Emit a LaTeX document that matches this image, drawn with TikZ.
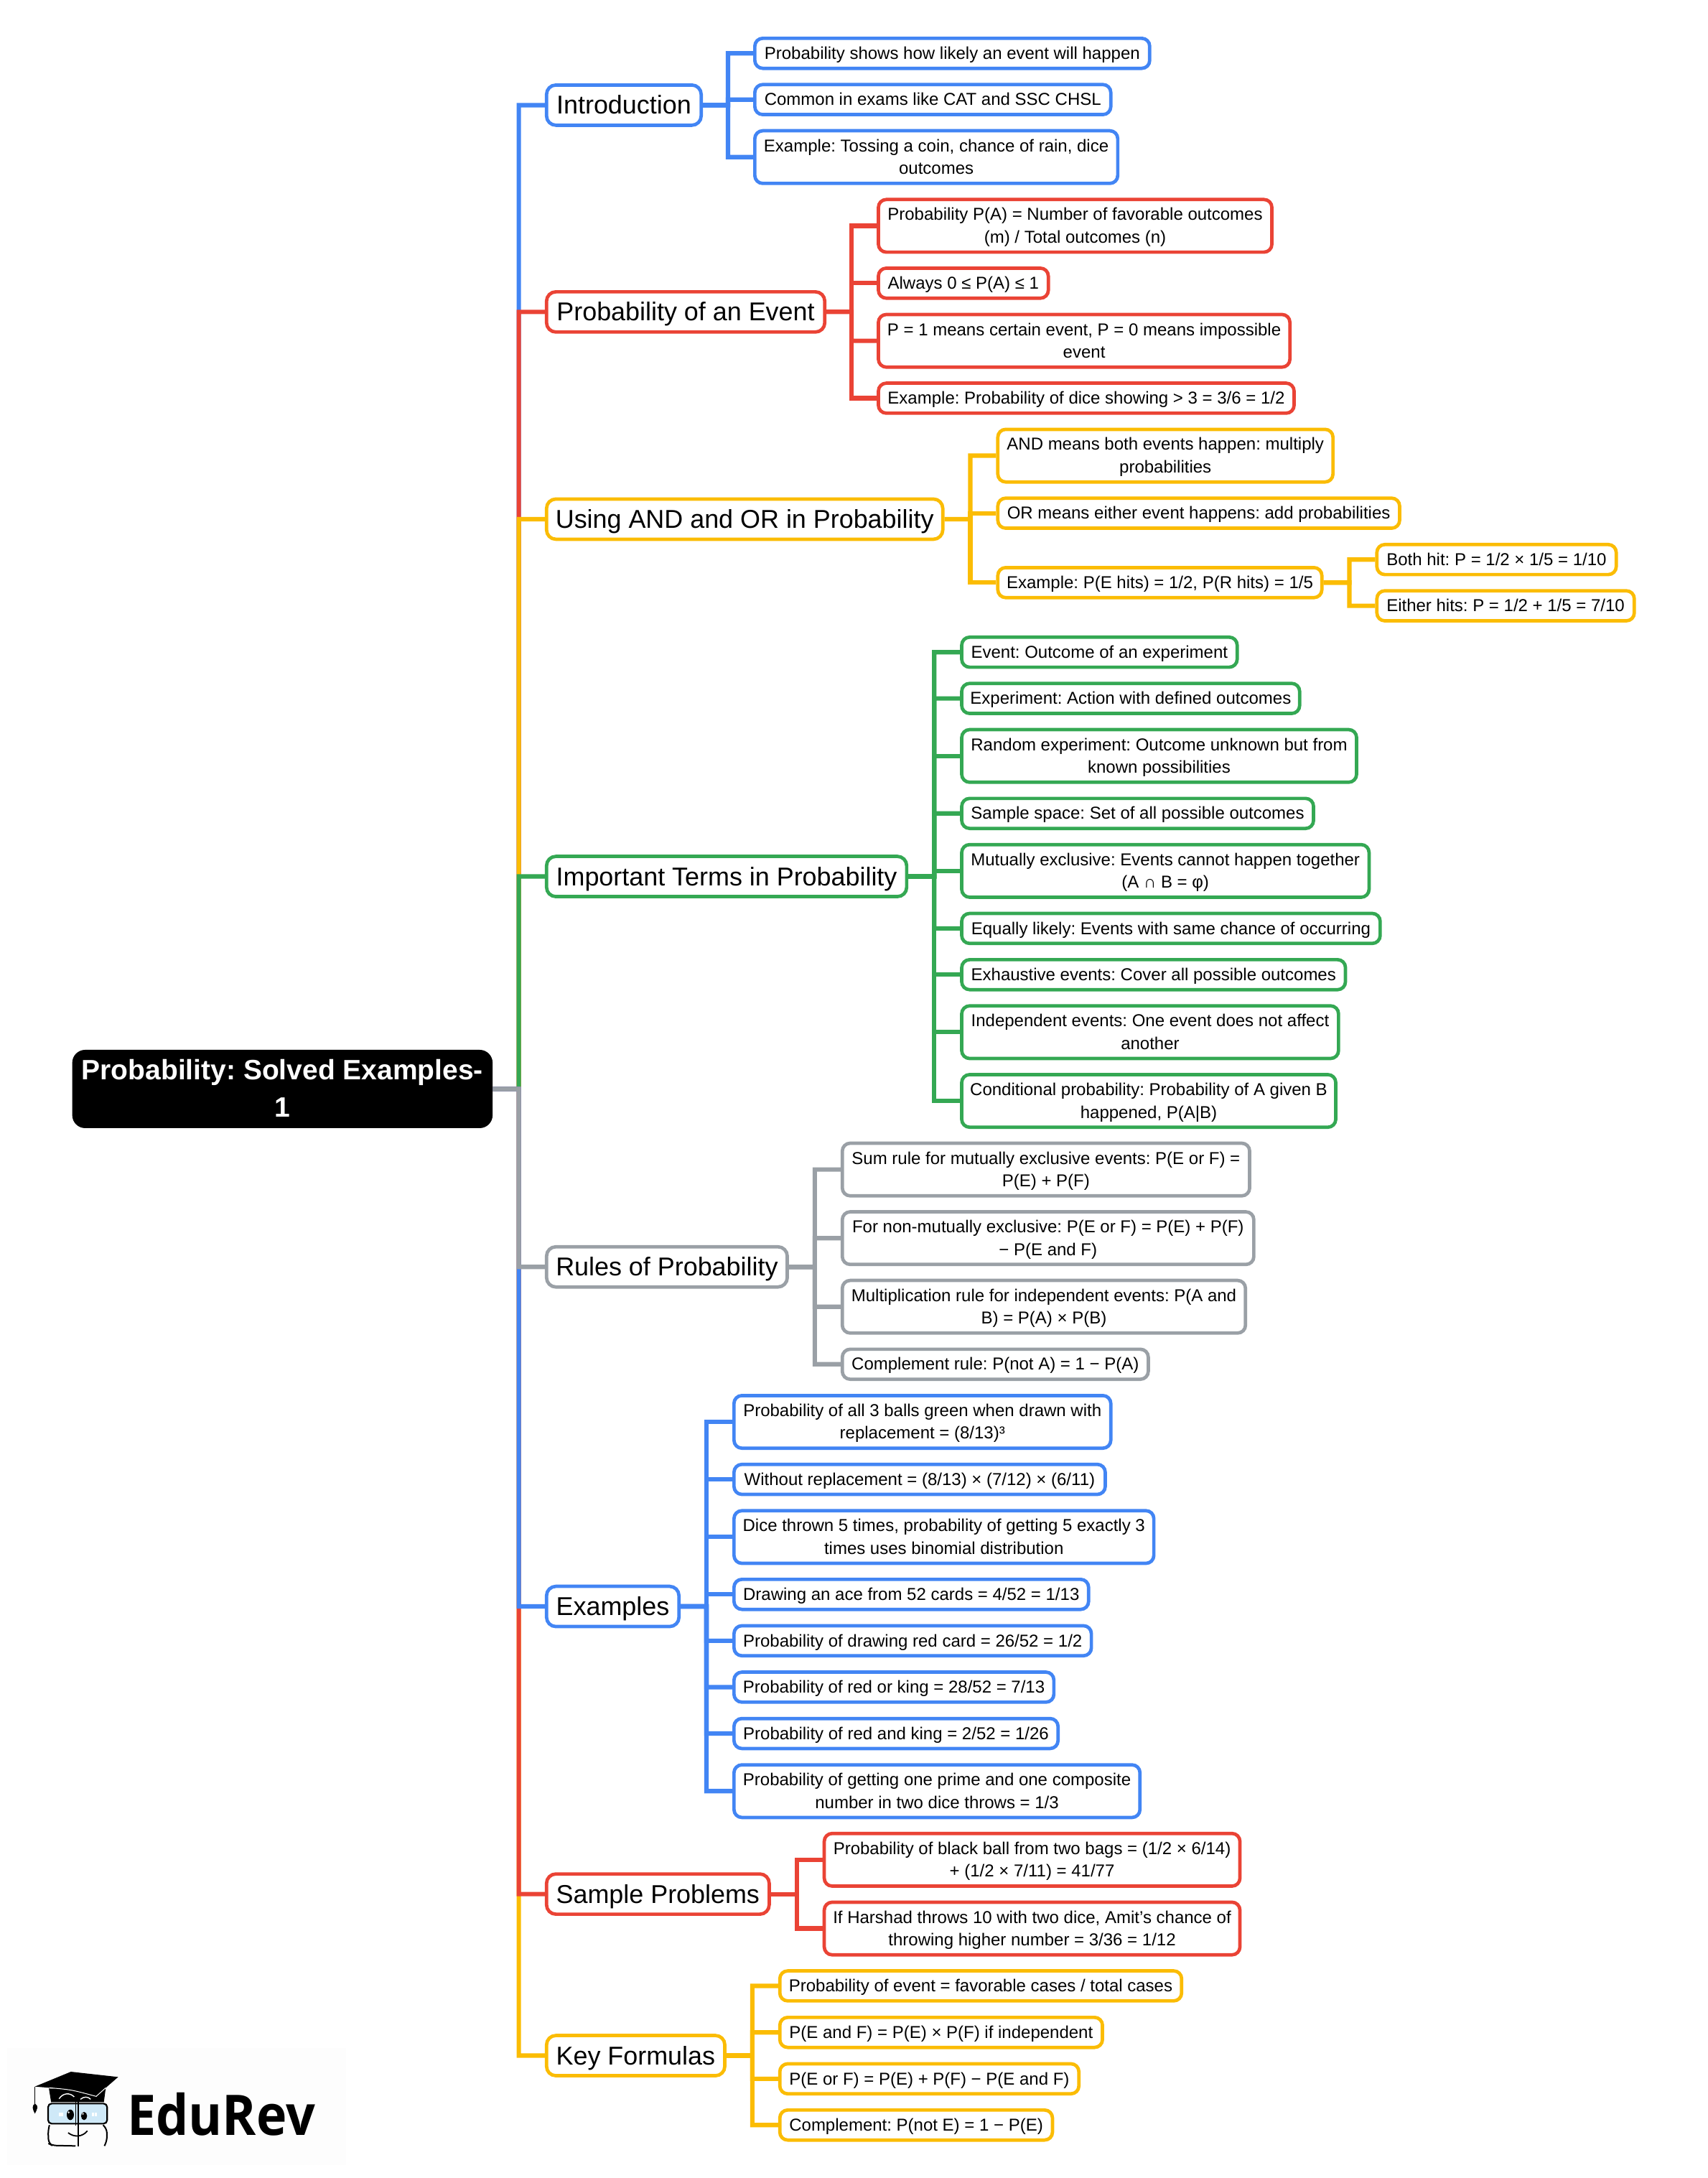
\documentclass[tikz,border=0pt]{standalone}
\usepackage{fontspec}
\setmainfont{Liberation Sans}[Ligatures=ResetAll]
\newfontfamily\logofont{Open Sans}[FakeStretch=0.92]
\usetikzlibrary{calc}
\definecolor{gblue}{HTML}{4285F4}
\definecolor{gred}{HTML}{EA4335}
\definecolor{gyellow}{HTML}{FBBC04}
\definecolor{ggreen}{HTML}{34A853}
\definecolor{ggrey}{HTML}{9AA0A6}
\definecolor{logobg}{HTML}{FDFDFD}
\definecolor{lens}{HTML}{CFE9F8}
\newcommand\ls{\rule[-0.24\baselineskip]{0pt}{\baselineskip}}
\tikzset{
  anybox/.style={draw=#1,fill=white,line width=4.7pt,rounded corners=11pt,align=center,inner xsep=0pt,text=black},
  leafbox/.style={anybox=#1,font=\frenchspacing\fontsize{24}{31.5}\selectfont,inner ysep=5.15pt},
  branchbox/.style={anybox=#1,font=\frenchspacing\fontsize{35.9}{48}\selectfont,inner ysep=4pt,rounded corners=13pt},
  rootbox/.style={fill=black,text=white,rounded corners=18pt,align=center,inner xsep=0pt,inner ysep=2.5pt,font=\frenchspacing\fontsize{39}{52}\selectfont\bfseries},
  linkline/.style={draw=#1,line width=6.2pt}
}
% name, colour, left, right, centre y, text
\newcommand\leafn[6]{\node[leafbox=#2,minimum width={(#4-#3+0.8)*1.934pt-4.7pt}] (#1) at ({(#3+#4)/2-0.2},#5) {\ls #6\ls};}
\newcommand\branchn[6]{\node[branchbox=#2,minimum width={(#4-#3+0.8)*1.934pt-4.7pt}] (#1) at ({(#3+#4)/2-0.2},#5) {\ls #6\ls};}
% colour, parent, child
\newcommand\link[3]{\draw[linkline=#1] (#2.east) -- ($(#2.east)!.5!(#2.east -| #3.west)$) -- ($(#3.west)!.5!(#3.west -| #2.east)$) -- (#3.west);}
\begin{document}
\begin{tikzpicture}[x=1.934pt,y=-1.934pt]
\useasboundingbox (0,0) rectangle (1230.09,1568.25);
\fill[white] (0,0) rectangle (1230.09,1568.25);

\node[rootbox,minimum width=585.5pt] (root) at (203.4,784.1) {\ls Probability: Solved Examples-\\\ls 1};

\branchn{b1}{gblue}{393}{506}{75.7}{Introduction}
\branchn{b2}{gred}{393}{595}{224.6}{Probability of an Event}
\branchn{b3}{gyellow}{393}{680}{373.8}{Using AND and OR in Probability}
\branchn{b4}{ggreen}{393}{654}{631.1}{Important Terms in Probability}
\branchn{b5}{ggrey}{393}{568}{912.2}{Rules of Probability}
\branchn{b6}{gblue}{393}{490}{1156.7}{Examples}
\branchn{b7}{gred}{393}{555}{1363.8}{Sample Problems}
\branchn{b8}{gyellow}{393}{523}{1480.1}{Key Formulas}

\leafn{a1}{gblue}{543}{829}{38.4}{Probability shows how likely an event will happen}
\leafn{a2}{gblue}{543}{801}{71.7}{Common in exams like CAT and SSC CHSL}
\leafn{a3}{gblue}{543}{806}{113.1}{Example: Tossing a coin, chance of rain, dice\\outcomes}

\leafn{e1}{gred}{632}{917}{162.6}{Probability P(A) = Number of favorable outcomes\\(m) / Total outcomes (n)}
\leafn{e2}{gred}{632}{756}{203.9}{Always 0 ≤ P(A) ≤ 1}
\leafn{e3}{gred}{632}{930}{245.4}{P = 1 means certain event, P = 0 means impossible\\event}
\leafn{e4}{gred}{632}{933}{286.7}{Example: Probability of dice showing > 3 = 3/6 = 1/2}

\leafn{u1}{gyellow}{718}{961}{328.1}{AND means both events happen: multiply\\probabilities}
\leafn{u2}{gyellow}{718}{1009}{369.5}{OR means either event happens: add probabilities}
\leafn{u3}{gyellow}{718}{953}{419.5}{Example: P(E hits) = 1/2, P(R hits) = 1/5}
\leafn{u4}{gyellow}{991}{1165}{402.9}{Both hit: P = 1/2 × 1/5 = 1/10}
\leafn{u5}{gyellow}{991}{1178}{436.2}{Either hits: P = 1/2 + 1/5 = 7/10}

\leafn{t1}{ggreen}{692}{892}{469.6}{Event: Outcome of an experiment}
\leafn{t2}{ggreen}{692}{937}{502.9}{Experiment: Action with defined outcomes}
\leafn{t3}{ggreen}{692}{978}{544.3}{Random experiment: Outcome unknown but from\\known possibilities}
\leafn{t4}{ggreen}{692}{947}{585.7}{Sample space: Set of all possible outcomes}
\leafn{t5}{ggreen}{692}{987}{627.1}{Mutually exclusive: Events cannot happen together\\(A ∩ B = φ)}
\leafn{t6}{ggreen}{692}{995}{668.5}{Equally likely: Events with same chance of occurring}
\leafn{t7}{ggreen}{692}{970}{701.8}{Exhaustive events: Cover all possible outcomes}
\leafn{t8}{ggreen}{692}{965}{743.2}{Independent events: One event does not affect\\another}
\leafn{t9}{ggreen}{692}{963}{792.7}{Conditional probability: Probability of A given B\\happened, P(A|B)}

\leafn{r1}{ggrey}{606}{901}{842.1}{Sum rule for mutually exclusive events: P(E or F) =\\P(E) + P(F)}
\leafn{r2}{ggrey}{606}{904}{891.5}{For non-mutually exclusive: P(E or F) = P(E) + P(F)\\− P(E and F)}
\leafn{r3}{ggrey}{606}{898}{940.9}{Multiplication rule for independent events: P(A and\\B) = P(A) × P(B)}
\leafn{r4}{ggrey}{606}{828}{982.3}{Complement rule: P(not A) = 1 − P(A)}

\leafn{x1}{gblue}{528}{801}{1023.8}{Probability of all 3 balls green when drawn with\\replacement = (8/13)³}
\leafn{x2}{gblue}{528}{797}{1065.2}{Without replacement = (8/13) × (7/12) × (6/11)}
\leafn{x3}{gblue}{528}{832}{1106.7}{Dice thrown 5 times, probability of getting 5 exactly 3\\times uses binomial distribution}
\leafn{x4}{gblue}{528}{785}{1148}{Drawing an ace from 52 cards = 4/52 = 1/13}
\leafn{x5}{gblue}{528}{787}{1181.4}{Probability of drawing red card = 26/52 = 1/2}
\leafn{x6}{gblue}{528}{760}{1214.8}{Probability of red or king = 28/52 = 7/13}
\leafn{x7}{gblue}{528}{763}{1248.2}{Probability of red and king = 2/52 = 1/26}
\leafn{x8}{gblue}{528}{822}{1289.7}{Probability of getting one prime and one composite\\number in two dice throws = 1/3}

\leafn{s1}{gred}{593}{894}{1339.1}{Probability of black ball from two bags = (1/2 × 6/14)\\+ (1/2 × 7/11) = 41/77}
\leafn{s2}{gred}{593}{894}{1388.6}{If Harshad throws 10 with two dice, Amit's chance of\\throwing higher number = 3/36 = 1/12}

\leafn{k1}{gyellow}{561}{852}{1429.9}{Probability of event = favorable cases / total cases}
\leafn{k2}{gyellow}{561}{795}{1463.4}{P(E and F) = P(E) × P(F) if independent}
\leafn{k3}{gyellow}{561}{778}{1496.8}{P(E or F) = P(E) + P(F) − P(E and F)}
\leafn{k4}{gyellow}{561}{759}{1530.1}{Complement: P(not E) = 1 − P(E)}

% trunk connectors, in the stacking order of the reference
\link{gblue}{root}{b1}
\link{gred}{root}{b2}
\link{gyellow}{root}{b3}
\link{ggreen}{root}{b4}
\link{gyellow}{root}{b8}
\link{gred}{root}{b7}
\link{gblue}{root}{b6}
\link{ggrey}{root}{b5}

\foreach \c in {a1,a2,a3}{\link{gblue}{b1}{\c}}
\foreach \c in {e1,e2,e3,e4}{\link{gred}{b2}{\c}}
\foreach \c in {u1,u2,u3}{\link{gyellow}{b3}{\c}}
\foreach \c in {u4,u5}{\link{gyellow}{u3}{\c}}
\foreach \c in {t1,t2,t3,t4,t5,t6,t7,t8,t9}{\link{ggreen}{b4}{\c}}
\foreach \c in {r1,r2,r3,r4}{\link{ggrey}{b5}{\c}}
\foreach \c in {x1,x2,x3,x4,x5,x6,x7,x8}{\link{gblue}{b6}{\c}}
\foreach \c in {s1,s2}{\link{gred}{b7}{\c}}
\foreach \c in {k1,k2,k3,k4}{\link{gyellow}{b8}{\c}}

% logo, in coordinates of a stretched crop
\begin{scope}[x=0.3827pt,y=-0.3333pt,yshift=-2800pt]
\fill[logobg] (27,155) rectangle (1260,645);
\fill[black] (178,325) -- (385,322) -- (378,382) -- (186,382) -- cycle;
\fill[lens,draw=black,line width=2.2pt,rounded corners=5pt] (175,388) rectangle (390,472);
\draw[black,line width=2pt,rounded corners=6pt] (180,478) -- (175,500) -- (177,555) -- (190,563) -- (275,565);
\draw[black,line width=2pt,rounded corners=6pt] (375,478) -- (388,490) -- (390,540) -- (380,565);
\draw[black,line width=2.2pt] (285,382) -- (285,568);
\draw[black,line width=1.2pt] (275,380) -- (275,480);
\fill[black] (127,317) -- (258,255) -- (430,277) -- (385,322) -- (350,360) -- (260,335) -- (180,322) -- cycle;
\draw[white,line width=1pt] (180,322) .. controls (260,330) .. (350,358) -- (385,322);
\draw[white,line width=1.4pt] (215,368) .. controls (230,342) and (255,342) .. (270,360);
\draw[white,line width=1.4pt] (293,370) .. controls (305,358) and (320,358) .. (330,370);
\draw[black,line width=1pt] (127,317) -- (127,392);
\fill[black] (127,388) .. controls (115,398) and (118,410) .. (127,430) .. controls (136,410) and (142,398) .. (127,388) -- cycle;
\fill[black] (256,435) ellipse[x radius=13,y radius=22];
\fill[black] (306,440) ellipse[x radius=11,y radius=17];
\fill[white] (250,425) ellipse[x radius=3,y radius=5];
\fill[white] (302,431) ellipse[x radius=3,y radius=4];
\foreach \wx in {222,343}{
  \fill[white] (\wx-9,425) rectangle (\wx-1,431);
  \fill[white] (\wx+1,425) rectangle (\wx+9,431);
  \fill[white] (\wx-9,433) rectangle (\wx-1,440);
  \fill[white] (\wx+1,433) rectangle (\wx+9,440);
}
\draw[black,line width=1.8pt] (248,510) .. controls (270,530) and (300,528) .. (318,502);
\node[anchor=base west,inner sep=0pt,font=\logofont\bfseries\fontsize{78}{78}\selectfont,text=black] (logo) at (462,520) {EduRev};
\end{scope}
\end{tikzpicture}
\end{document}
